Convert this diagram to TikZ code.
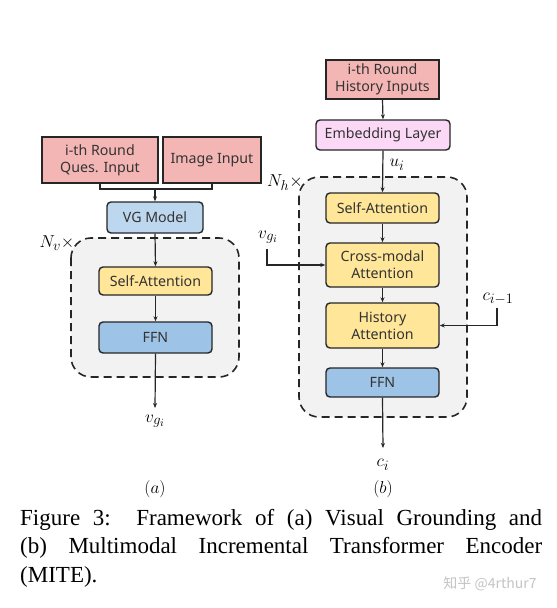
\documentclass[tikz,border=0pt]{standalone}
\usepackage{fontspec}
\setmainfont{Liberation Serif}
\newfontfamily\boxfont{Noto Sans}
\newfontfamily\cjkfont{Noto Sans CJK SC}
\usetikzlibrary{arrows.meta}
\DeclareMathSizes{18}{18}{14}{11}
\DeclareMathSizes{16}{16}{12}{10}
\definecolor{inred}{HTML}{F4B6B4}
\definecolor{embpink}{HTML}{FBD9F6}
\definecolor{attyel}{HTML}{FFE699}
\definecolor{ffnblue}{HTML}{9DC3E6}
\definecolor{vgblue}{HTML}{BDD7EE}
\definecolor{regiongray}{HTML}{F2F2F2}
\definecolor{edgecol}{HTML}{262626}
\definecolor{txtcol}{HTML}{333333}
\definecolor{wmcol}{HTML}{C4C4C4}
\tikzset{
  blk/.style={draw=edgecol, line width=1.4pt, inner sep=0pt, align=center,
    text=txtcol, font=\boxfont\fontsize{14.2}{17}\selectfont},
  inbox/.style={blk, fill=inred},
  rbox/.style={blk, rounded corners=4pt},
  region/.style={draw=edgecol, fill=regiongray, line width=1.6pt,
    dash pattern=on 8pt off 5pt, rounded corners=20pt},
  conn/.style={draw=edgecol, line width=1.2pt},
  arr/.style={conn, -{Stealth[length=5pt,width=4pt]}},
  mlab/.style={inner sep=0pt, font=\fontsize{18}{20}\selectfont},
  sublab/.style={inner sep=0pt, font=\fontsize{16}{18}\selectfont},
}
\begin{document}
\begin{tikzpicture}[x=1pt,y=-1pt]
\useasboundingbox[fill=white] (0,0) rectangle (557,608);
% ---------- (a) ----------
\path[region] (71,238) rectangle (239,377);
\node[inbox, minimum width=116pt, minimum height=46pt] (q) at (100,160) {i-th Round\\Ques. Input};
\node[inbox, minimum width=98pt, minimum height=46pt] (img) at (212,160) {Image Input};
\node[rbox, fill=vgblue, minimum width=96pt, minimum height=31pt] (vg) at (155,217.5) {VG Model};
\node[rbox, fill=attyel, minimum width=113pt, minimum height=28pt] (sa) at (155.5,281) {Self-Attention};
\node[rbox, fill=ffnblue, minimum width=113pt, minimum height=31pt] (ffn) at (155.5,337.5) {FFN};
\node[mlab] (nv) at (57,243) {$N_v\times$};
\coordinate (join) at (155,189);
\node[mlab] (vgi) at (155,421) {$v_{g_i}$};
\coordinate (vgiend) at (155,408);
\draw[conn] (q.south) |- (join) -| (img.south);
\draw[arr] (join) -- (vg.north);
\draw[arr] (vg.south) -- (sa.north);
\draw[arr] (sa.south) -- (ffn.north);
\draw[arr] (ffn.south) -- (vgiend);
\node[sublab] (la) at (155,489) {$(a)$};
% ---------- (b) ----------
\path[region] (299,177) rectangle (467,417);
\node[inbox, minimum width=113pt, minimum height=39pt] (hist) at (382.5,79.5) {i-th Round\\History Inputs};
\node[rbox, fill=embpink, minimum width=134pt, minimum height=30pt] (emb) at (383,135) {Embedding Layer};
\node[rbox, fill=attyel, minimum width=113pt, minimum height=30pt] (sa2) at (382.5,208) {Self-Attention};
\node[rbox, fill=attyel, minimum width=113pt, minimum height=44pt] (cm) at (382.5,265) {Cross-modal\\Attention};
\node[rbox, fill=attyel, minimum width=113pt, minimum height=45pt] (ha) at (382.5,325.5) {History\\Attention};
\node[rbox, fill=ffnblue, minimum width=113pt, minimum height=29pt] (ffn2) at (382.5,382.5) {FFN};
\node[mlab] (nh) at (285,183) {$N_h\times$};
\node[mlab] (ui) at (397,165) {$u_i$};
\node[mlab] (vgi2) at (268,237) {$v_{g_i}$};
\coordinate (vgistart) at (267,249);
\node[mlab] (cim) at (498,299) {$c_{i-1}$};
\coordinate (cimstart) at (497,308);
\node[mlab] (ci) at (383,465) {$c_i$};
\coordinate (ciend) at (383,448);
\draw[arr] (hist.south) -- (emb.north);
\draw[arr] (emb.south) -- (sa2.north);
\draw[arr] (sa2.south) -- (cm.north);
\draw[arr] (cm.south) -- (ha.north);
\draw[arr] (ha.south) -- (ffn2.north);
\draw[arr] (ffn2.south) -- (ciend);
\draw[arr] (vgistart) |- (cm.west);
\draw[arr] (cimstart) |- (ha.east);
\node[sublab] (lb) at (383,489) {$(b)$};
% ---------- caption ----------
\node[anchor=base west, inner sep=0pt, font=\fontsize{23}{28.5}\selectfont] (cap) at (20,525)
  {\parbox[t]{522pt}{Figure 3:\ \ Framework of (a) Visual Grounding and\linebreak
   (b) Multimodal Incremental Transformer Encoder\linebreak
   (MITE).}};
\node[inner sep=0pt, text=wmcol, font=\cjkfont\fontsize{14}{16}\selectfont] (wm) at (490,584) {知乎 @4rthur7};
\end{tikzpicture}
\end{document}
